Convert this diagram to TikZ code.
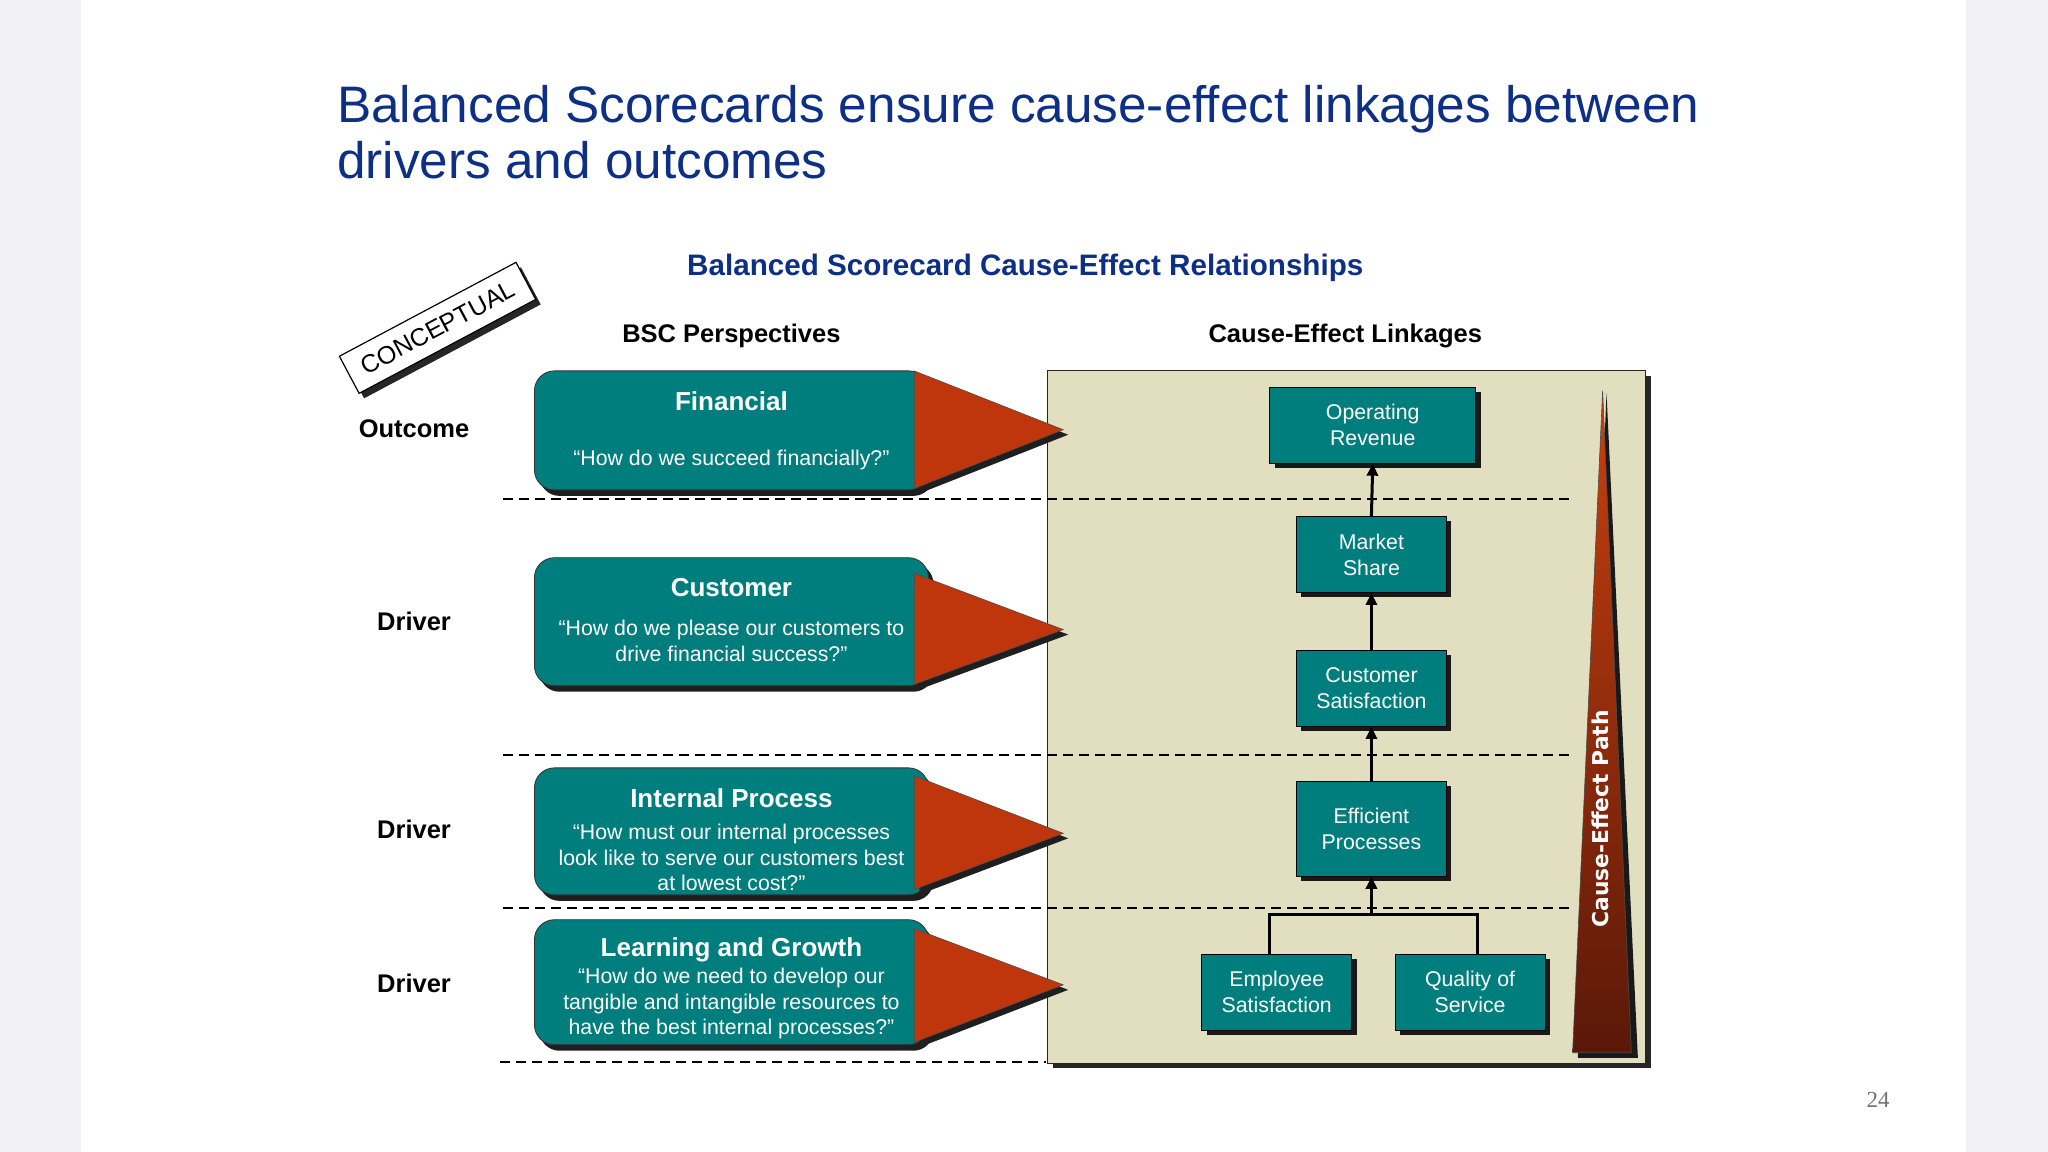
\documentclass[tikz,border=0pt]{standalone}
\usepackage{fontspec}
\setmainfont{Liberation Sans}
\newfontfamily\serifnum{Liberation Serif}
\newfontfamily\verdanalike{DejaVu Sans}
\usetikzlibrary{arrows.meta,shadows}
\definecolor{bsteal}{HTML}{007E7D}
\definecolor{bsred}{HTML}{C0360C}
\definecolor{bsbeige}{HTML}{E2DFC0}
\definecolor{bsnavy}{HTML}{0D2F85}
\definecolor{stripgray}{HTML}{F2F1F4}
\definecolor{cetop}{HTML}{C8400F}
\definecolor{cebot}{HTML}{5A1808}
\newcommand\myfs[2]{\fontsize{#1}{#2}\selectfont}
\begin{document}
\begin{tikzpicture}[x=1.306pt,y=-1.306pt,
  lbl/.style={inner sep=0pt, font=\bfseries\myfs{25.5}{30}},
  pbox/.style={fill=bsteal, draw=black!80, line width=0.8pt, rounded corners=20pt,
    minimum width=394pt, inner sep=0pt,
    drop shadow={opacity=1, fill=black!88, shadow xshift=5pt, shadow yshift=-6pt}},
  ptri/.style={fill=bsred, draw=black!70, line width=0.6pt,
    drop shadow={opacity=1, fill=black!88, shadow xshift=5pt, shadow yshift=-5pt}},
  ptitle/.style={text=white, font=\bfseries\myfs{26}{30}, inner sep=0pt},
  pbody/.style={text=white, font=\myfs{21.3}{25.5}, align=center, inner sep=0pt},
  cbox/.style={fill=bsteal, draw=black, line width=1pt, minimum height=76pt,
    minimum width=150pt, text=white, font=\myfs{21.3}{26}, align=center, inner sep=0pt,
    drop shadow={opacity=1, fill=black!90, shadow xshift=5pt, shadow yshift=-5pt}},
  link/.style={line width=3pt, -{Triangle[length=12pt,width=11pt]}},
  joint/.style={line width=3pt},
  sepline/.style={dash pattern=on 10pt off 6pt, line width=2.2pt}
]
\useasboundingbox (0,0) rectangle (1568,882);
\fill[white] (0,0) rectangle (1568,882);
\fill[stripgray] (0,0) rectangle (62,882);
\fill[stripgray] (1505,0) rectangle (1568,882);

% titles
\node[anchor=base west, inner sep=0pt, text=bsnavy, font=\myfs{51.3}{54}] (t1) at (258,94)
  {Balanced Scorecards ensure cause-effect linkages between};
\node[anchor=base west, inner sep=0pt, text=bsnavy, font=\myfs{51.3}{54}] (t2) at (258,137)
  {drivers and outcomes};
\node[inner sep=0pt, text=bsnavy, font=\bfseries\myfs{29.6}{32}] (sub) at (785,205)
  {Balanced Scorecard Cause-Effect Relationships};
\node[lbl] (hbsc) at (560,257) {BSC Perspectives};
\node[lbl] (hcel) at (1030,257) {Cause-Effect Linkages};

% conceptual stamp
\node[draw=black, line width=1.2pt, fill=white, rotate=28, minimum width=200pt,
  minimum height=42pt, inner sep=0pt, font=\myfs{25}{28},
  drop shadow={opacity=1, fill=black!85, shadow xshift=5pt, shadow yshift=-5pt}]
  (stamp) at (335,251) {CONCEPTUAL};

% row labels
\node[lbl] (lout) at (317,328) {Outcome};
\node[lbl] (ld1) at (317,476) {Driver};
\node[lbl] (ld2) at (317,635) {Driver};
\node[lbl] (ld3) at (317,753) {Driver};

% right panel
\draw[fill=bsbeige, draw=black!85, line width=1pt,
  drop shadow={opacity=1, fill=black!85, shadow xshift=5pt, shadow yshift=-5pt}]
  (802,284) rectangle (1260,814);

% separators
\draw[sepline] (385,382) -- (1205,382);
\draw[sepline] (385,578) -- (1205,578);
\draw[sepline] (385,695) -- (1205,695);
\draw[sepline] (383,813) -- (801,813);

% cause-effect path wedge
\fill[black!90] (1230,301) -- (1254,810) -- (1208,810) -- cycle;
\draw[draw=black!70, line width=0.6pt, top color=cetop, bottom color=cebot]
  (1227,299) -- (1249,806) -- (1204,806) -- cycle;
\node[rotate=90, text=white, inner sep=0pt, font=\verdanalike\bfseries\myfs{21.8}{24}]
  (cep) at (1225,627) {Cause-Effect Path};

% left perspective boxes
\node[pbox, minimum height=119pt] (fin) at (560,329.5) {};
\node[pbox, minimum height=128pt] (cus) at (560,476) {};
\node[pbox, minimum height=127pt] (int) at (560,636.5) {};
\node[pbox, minimum height=125pt] (lrn) at (560,752) {};

\draw[ptri] (700,284) -- (814,329) -- (700,374) -- cycle;
\draw[ptri] (700,439) -- (814,482) -- (700,524) -- cycle;
\draw[ptri] (700,594) -- (814,638) -- (700,681) -- cycle;
\draw[ptri] (700,711) -- (814,754) -- (700,798) -- cycle;

\node[ptitle] (finT) at (560,307) {Financial};
\node[pbody] (finQ) at (560,352) {“How do we succeed financially?”};
\node[ptitle] (cusT) at (560,450) {Customer};
\node[pbody] (cusQ) at (560,490.5) {“How do we please our customers to\\drive financial success?”};
\node[ptitle] (intT) at (560,611) {Internal Process};
\node[pbody] (intQ) at (560,656.5) {“How must our internal processes\\look like to serve our customers best\\at lowest cost?”};
\node[ptitle] (lrnT) at (560,727) {Learning and Growth};
\node[pbody] (lrnQ) at (560,768.5) {“How do we need to develop our\\tangible and intangible resources to\\have the best internal processes?”};

% cause-effect boxes
\node[cbox, minimum width=206pt] (opr) at (1051,325.5) {Operating\\Revenue};
\node[cbox] (mkt) at (1050,424.5) {Market\\Share};
\node[cbox] (csat) at (1050,527) {Customer\\Satisfaction};
\node[cbox, minimum height=95pt] (eff) at (1050,634.5) {Efficient\\Processes};
\node[cbox] (emp) at (977.5,759.5) {Employee\\Satisfaction};
\node[cbox] (qos) at (1125.5,759.5) {Quality of\\Service};

\coordinate (jn) at (1050,700.5);
\coordinate (jl) at (972,700.5);
\coordinate (jr) at (1131.5,700.5);

\draw[link] (mkt.north) -- (opr.south);
\draw[link] (csat.north) -- (mkt.south);
\draw[link] (eff.north) -- (csat.south);
\draw[joint] (emp.north -| jl) -- (jl) -- (jr) -- (qos.north -| jr);
\draw[link] (jn) -- (eff.south);

% page number
\node[inner sep=0pt, text=black!55, font=\serifnum\myfs{23}{26}] (pg) at (1438,842) {24};
\end{tikzpicture}
\end{document}
